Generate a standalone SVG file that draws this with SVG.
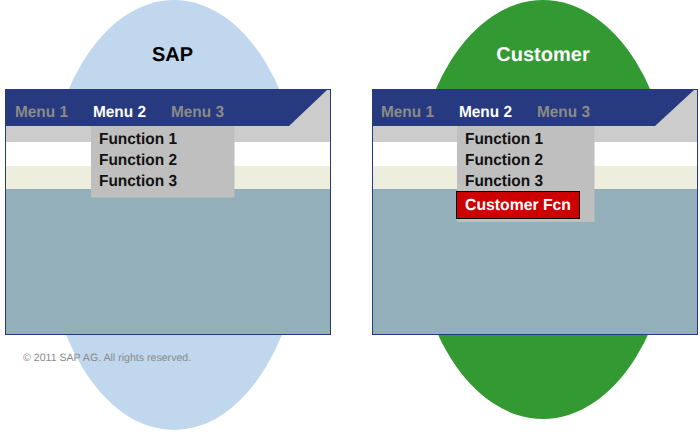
<svg xmlns="http://www.w3.org/2000/svg" width="700" height="434" viewBox="0 0 700 434">
<style>
text{font-family:"Liberation Sans",Arial,sans-serif;font-weight:bold;text-rendering:geometricPrecision}
.m{font-size:16px;fill:#8a8a8a}
.a{font-size:16px;fill:#fff}
.f{font-size:16px;fill:#111}
.t{font-size:20px}
.fr{fill:#93afba}
</style>
<rect width="700" height="434" fill="#fff"/>
<g id="sap">
<ellipse cx="174" cy="215" rx="130" ry="215" fill="#c0d7ee"/>
<text class="t" x="172.500" y="61" text-anchor="middle" fill="#000">SAP</text>
</g>
<g id="customer">
<ellipse cx="543" cy="209.500" rx="131" ry="209.500" fill="#339933"/>
<text class="t" x="543" y="61" text-anchor="middle" fill="#fff">Customer</text>
</g>
<g id="sap-window">
<rect x="5.500" y="89.500" width="325" height="245" class="fr" stroke="#27397f"/>
<rect x="6" y="90" width="324" height="52" fill="#cccccc"/>
<rect x="6" y="142" width="324" height="24" fill="#fff"/>
<rect x="6" y="166" width="324" height="23" fill="#eeeedf"/>
<polygon points="6,90 327,90 289,126 6,126" fill="#27397f"/>
<text class="m" x="15" y="117" textLength="53" lengthAdjust="spacingAndGlyphs">Menu 1</text>
<text class="a" x="93" y="117" textLength="53" lengthAdjust="spacingAndGlyphs">Menu 2</text>
<text class="m" x="171" y="117" textLength="53" lengthAdjust="spacingAndGlyphs">Menu 3</text>
</g>
<g id="sap-menu">
<rect x="91" y="126" width="143.500" height="71.500" fill="#bfbfbf"/>
<text class="f" x="99" y="144" textLength="78" lengthAdjust="spacingAndGlyphs">Function 1</text>
<text class="f" x="99" y="165" textLength="78" lengthAdjust="spacingAndGlyphs">Function 2</text>
<text class="f" x="99" y="186" textLength="78" lengthAdjust="spacingAndGlyphs">Function 3</text>
</g>
<g id="customer-window">
<rect x="372.500" y="89.500" width="325" height="245" class="fr" stroke="#27397f"/>
<rect x="373" y="90" width="324" height="52" fill="#cccccc"/>
<rect x="373" y="142" width="324" height="24" fill="#fff"/>
<rect x="373" y="166" width="324" height="23" fill="#eeeedf"/>
<polygon points="373,90 694,90 655,126 373,126" fill="#27397f"/>
<text class="m" x="381" y="117" textLength="53" lengthAdjust="spacingAndGlyphs">Menu 1</text>
<text class="a" x="459" y="117" textLength="53" lengthAdjust="spacingAndGlyphs">Menu 2</text>
<text class="m" x="537" y="117" textLength="53" lengthAdjust="spacingAndGlyphs">Menu 3</text>
</g>
<g id="customer-menu">
<rect x="457" y="126" width="137.500" height="96" fill="#bfbfbf"/>
<text class="f" x="465" y="144" textLength="78" lengthAdjust="spacingAndGlyphs">Function 1</text>
<text class="f" x="465" y="165" textLength="78" lengthAdjust="spacingAndGlyphs">Function 2</text>
<text class="f" x="465" y="186" textLength="78" lengthAdjust="spacingAndGlyphs">Function 3</text>
</g>
<g id="customer-fcn">
<rect x="456.500" y="191.500" width="123" height="27" fill="#cc0000" stroke="#000"/>
<text class="a" x="465" y="210" textLength="106" lengthAdjust="spacingAndGlyphs">Customer Fcn</text>
</g>
<g id="connectors"></g>
<text x="23" y="361" font-size="10.600" style="font-weight:normal" fill="#8a8a8a">© 2011 SAP AG. All rights reserved.</text>
</svg>
